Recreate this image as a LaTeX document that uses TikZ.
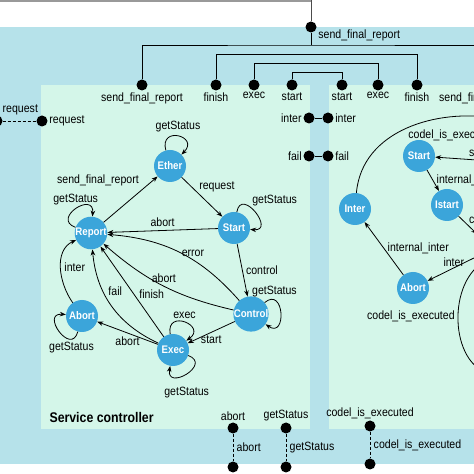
\documentclass[tikz,border=0pt]{standalone}
\usepackage{fontspec}
\setmainfont{Liberation Sans}[FakeStretch=0.88]
\usetikzlibrary{arrows.meta}
\definecolor{outerblue}{RGB}{182,226,234}
\definecolor{panelgreen}{RGB}{212,246,233}
\definecolor{statefill}{RGB}{59,165,218}

\begin{document}
\begin{tikzpicture}[x=1pt,y=1pt,
    font=\fontsize{12}{14}\selectfont,
    >={Stealth[length=6pt,width=4.5pt]},
    state/.style={circle, fill=statefill, text=white, font=\bfseries\fontsize{11}{13}\selectfont, minimum size=32pt, inner sep=0pt},
    port/.style={circle, fill=black, minimum size=11pt, inner sep=0pt},
    every label/.style={inner sep=1.5pt},
    trans/.style={->, line width=0.8pt},
    selfloop/.style={->, line width=0.8pt, looseness=0.1, min distance=26pt},
    link/.style={line width=0.8pt},
    dashlink/.style={line width=0.8pt, dash pattern=on 3pt off 2pt}]
    \useasboundingbox (0,0) rectangle (474,474);
    \clip (0,0) rectangle (474,474);

    % background
    \fill[white] (0,0) rectangle (474,474);
    \fill[outerblue] (0,10) rectangle (474,447);
    \fill[panelgreen] (41,45) rectangle (310,389);
    \fill[panelgreen] (329,45) rectangle (480,389);
    \draw[black!40, line width=2pt] (0,473) -- (311,473);

    % ports at the top
    \node[port, label={[yshift=-8pt]right:send\_final\_report}] (sfrTop) at (311,447) {};
    \node[port, label=below:send\_final\_report] (sfrL) at (142,389) {};
    \node[port, label=below:send\_final\_report] (sfrR) at (480,389) {};
    \node[port, label=below:finish] (finL) at (216,389) {};
    \node[port, label=below:finish] (finR) at (417,389) {};
    \node[port, label=below:exec] (exeL) at (254,389) {};
    \node[port, label=below:exec] (exeR) at (378,389) {};
    \node[port, label=below:start] (staL) at (292,389) {};
    \node[port, label=below:start] (staR) at (342,389) {};
    \coordinate (sfrJ) at (311,429);
    \draw[black!70, line width=0.8pt] (311,474) -- (sfrTop);
    \draw[link] (sfrTop) -- (sfrJ);
    \draw[link] (sfrL) |- (sfrJ) -| (sfrR);
    \draw[link] (finL) -- ++(0,31) -| (finR);
    \draw[link] (exeL) -- ++(0,22) -| (exeR);
    \draw[link] (staL) -- ++(0,13) -| (staR);

    % ports between the panels
    \node[port, label=left:inter] (intL) at (309,356) {};
    \node[port, label=right:inter] (intR) at (328,356) {};
    \draw[link] (intL) -- (intR);
    \node[port, label=left:fail] (failL) at (309,318) {};
    \node[port, label=right:fail] (failR) at (328,318) {};
    \draw[link] (failL) -- (failR);

    % request
    \node[port, label=right:request] (reqIn) at (42,353) {};
    \node[port, label=above right:request] (reqOut) at (-3,353) {};
    \draw[dashlink] (reqOut) -- (reqIn);

    % ports at the bottom
    \node[port, label=above:abort] (abT) at (233,46) {};
    \node[port] (abB) at (233,7) {};
    \draw[dashlink] (abT) -- node[right] {abort} (abB);
    \node[port, label=above:getStatus] (gsT) at (286,46) {};
    \node[port] (gsB) at (286,7) {};
    \draw[dashlink] (gsT) -- node[right] {getStatus} (gsB);
    \node[port, label=above:codel\_is\_executed] (ceT) at (370,48) {};
    \node[port] (ceB) at (370,10) {};
    \draw[dashlink] (ceT) -- node[right] {codel\_is\_executed} (ceB);

    % service controller
    \node[anchor=west, font=\bfseries\fontsize{14}{16}\selectfont] (svc) at (46,57) {Service controller};
    \node[state] (ether) at (170,308) {Ether};
    \node[state] (start) at (234,246) {Start};
    \node[state] (report) at (91,241) {Report};
    \node[state] (control) at (251,160) {Control};
    \node[state] (exec) at (173,124) {Exec};
    \node[state] (abort) at (82,158) {Abort};

    \draw[trans] (report) -- node[pos=0.72, above left] {send\_final\_report} (ether);
    \draw[trans] (ether) -- node[pos=0.4, above right, inner sep=1pt] {request} (start);
    \draw[trans] (start) -- node[above] {abort} (report);
    \draw[trans] (start) -- node[right] {control} (control);
    \draw[trans] (control) to[bend right=22] node[pos=0.4, above] {error} (report);
    \draw[trans] (control) to[bend left=14] node[above] {abort} (report);
    \draw[trans] (exec) -- node[pos=0.47, right, inner sep=5pt] {finish} (report);
    \draw[trans] (exec) to[bend left=30] node[pos=0.65, right, inner sep=5pt] {fail} (report);
    \draw[trans] (abort) to[out=125, in=205] node[right] {inter} (report);
    \draw[trans] (exec) -- node[below] {abort} (abort);
    \draw[trans] (control) -- node[below] {start} (exec);

    \draw[selfloop] (ether) to[out=105, in=45] node[above] {getStatus} (ether);
    \draw[selfloop] (report) to[out=160, in=85] node[above] {getStatus} (report);
    \draw[selfloop] (start) to[out=80, in=-5] node[pos=0.4, above right, inner sep=1pt] {getStatus} (start);
    \draw[selfloop] (control) to[out=40, in=-35] node[pos=0.2, above, inner sep=2pt] {getStatus} (control);
    \draw[selfloop] (exec) to[out=100, in=35] node[above] {exec} (exec);
    \draw[selfloop] (exec) to[out=-20, in=-100] node[below=10pt] {getStatus} (exec);
    \draw[selfloop] (abort) to[out=-105, in=175] node[pos=0.2, below, inner sep=2pt] {getStatus} (abort);

    % codel panel
    \node[state] (cStart) at (419,318) {Start};
    \node[state] (cIstart) at (447,269) {Istart};
    \node[state] (cInter) at (355,265) {Inter};
    \node[state] (cAbort) at (413,186) {Abort};
    \coordinate (cSend) at (520,311);
    \coordinate (cCtrlIn) at (477,240);
    \coordinate (cCtrlOut) at (480,219);
    \coordinate (cExecA) at (500,355);
    \coordinate (cLoopA) at (490,215);
    \coordinate (cLoopB) at (490,100);

    \draw[trans] (cSend) -- node[pos=0.48, above] {start} (cStart);
    \draw[trans] (cStart) -- node[right] {internal\_start} (cIstart);
    \draw[trans] (cIstart) -- node[above right, inner sep=1pt] {control} (cCtrlIn);
    \draw[trans] (cCtrlOut) -- node[above, inner sep=1pt] {inter} (cAbort);
    \draw[trans] (cAbort) -- node[right] {internal\_inter} (cInter);
    \draw[trans] (cInter) to[out=85, in=170] node[pos=0.5, below right, inner sep=1pt] {codel\_is\_executed} (cExecA);
    \draw[trans] (cLoopA) to[out=200, in=160] node[left] {codel\_is\_executed} (cLoopB);
\end{tikzpicture}
\end{document}
